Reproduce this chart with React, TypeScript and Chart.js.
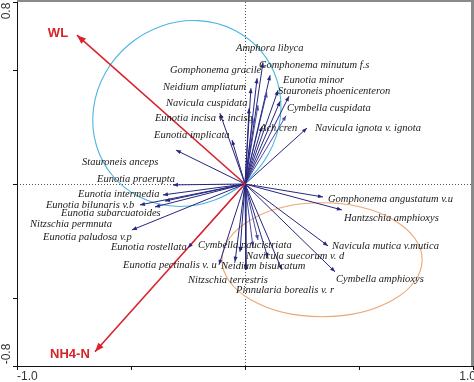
import React, { useEffect, useRef } from 'react';
import { Chart, registerables } from 'chart.js';
Chart.register(...registerables);

// Species arrows (tips in ordination units)
const speciesNames = [
  'Amphora libyca', 'Gomphonema minutum f.s', 'Gomphonema gracile', 'Neidium ampliatum',
  'Navicula cuspidata', 'Eunotia incisa v. incisa', 'Eunotia implicata', 'Eunotia minor',
  'Stauroneis phoenicenteron', 'Cymbella cuspidata', 'Ach.cren', 'Navicula ignota v. ignota',
  'Stauroneis anceps', 'Eunotia praerupta', 'Eunotia intermedia', 'Eunotia bilunaris v.b',
  'Eunotia subarcuatoides', 'Nitzschia permnuta', 'Eunotia paludosa v.p', 'Eunotia rostellata',
  'Eunotia pectinalis v. u', 'Cymbella paucistriata', 'Neidium bisulcatum', 'Nitzschia terrestris',
  'Navicula suecorum v. d', 'Pinnularia borealis v. r', 'Navicula mutica v.mutica', 'Cymbella amphioxys',
  'Gomphonema angustatum v.u', 'Hantzschia amphioxys',
];
const speciesX = [
  0.079, 0.110, 0.053, 0.026,
  0.018, -0.110, -0.057, 0.145,
  0.193, 0.154, 0.075, 0.272,
  -0.303, -0.316, -0.360, -0.461,
  -0.351, -0.395, -0.496, -0.250,
  -0.114, -0.022, -0.044, 0.004,
  0.101, 0.162, 0.364, 0.395,
  0.342, 0.425,
];
const speciesY = [
  0.535, 0.478, 0.465, 0.421,
  0.333, 0.311, 0.193, 0.412,
  0.386, 0.364, 0.254, 0.246,
  0.149, -0.004, -0.048, -0.092,
  -0.075, -0.101, -0.202, -0.281,
  -0.355, -0.298, -0.342, -0.377,
  -0.325, -0.377, -0.272, -0.386,
  -0.057, -0.114,
];
// Label anchors (left edge, middle) in ordination units
const labelX = [
  -0.039, 0.061, -0.329, -0.360,
  -0.346, -0.395, -0.399, 0.167,
  0.145, 0.184, 0.066, 0.307,
  -0.715, -0.649, -0.732, -0.873,
  -0.807, -0.943, -0.886, -0.588,
  -0.535, -0.206, -0.105, -0.250,
  0.004, -0.039, 0.382, 0.399,
  0.364, 0.434,
];
const labelY = [
  0.596, 0.522, 0.500, 0.425,
  0.355, 0.289, 0.215, 0.456,
  0.408, 0.333, 0.246, 0.246,
  0.096, 0.022, -0.044, -0.092,
  -0.127, -0.175, -0.232, -0.276,
  -0.355, -0.268, -0.360, -0.425,
  -0.316, -0.469, -0.272, -0.417,
  -0.066, -0.149,
];
// Unlabelled species arrows
const extraX = [0.096, 0.035, 0.057, 0.035, 0.057, 0.180];
const extraY = [0.403, 0.289, 0.346, -0.276, -0.246, 0.300];

// Environmental variables
const envNames = ['WL', 'NH4-N'];
const envX = [-0.737, -0.658];
const envY = [0.654, -0.737];
const envLabelX = [-0.776, -0.855];
const envLabelY = [0.662, -0.750];

// Grouping ellipses: centre x, centre y, radius x, radius y, rotation (deg)
const ellipseCX = [-0.255, 0.338];
const ellipseCY = [0.31, -0.333];
const ellipseRX = [0.425, 0.439];
const ellipseRY = [0.395, 0.250];
const ellipseRot = [-40, 0];

// Axes
const xTicks = [-1, -0.5, 0, 0.5, 1];
const yTicks = [-0.8, -0.5, 0, 0.5, 0.8];
const xTickLabels = ['-1.0', '1.0'];
const yTickLabels = ['-0.8', '0.8'];

const NAVY = '#26267f';
const RED = '#d8232a';

export default function App() {
  const ref = useRef<HTMLCanvasElement>(null);
  useEffect(() => {
    document.body.style.margin = '0';
    const canvas = ref.current!;

    const arrowDs = (x: number, y: number, color: string, w: number) => ({
      data: [{ x: 0, y: 0 }, { x, y }],
      showLine: true,
      borderColor: color,
      backgroundColor: color,
      borderWidth: w,
      pointRadius: 0,
      fill: false,
    });

    const datasets: any[] = [];
    envX.forEach((x, i) => datasets.push(arrowDs(x, envY[i], RED, 1.6)));
    speciesX.forEach((x, i) => datasets.push(arrowDs(x, speciesY[i], NAVY, 1)));
    extraX.forEach((x, i) => datasets.push(arrowDs(x, extraY[i], '#4a4aa6', 1)));

    const head = (ctx: CanvasRenderingContext2D, x0: number, y0: number, x1: number, y1: number, len: number, wid: number, color: string) => {
      const a = Math.atan2(y1 - y0, x1 - x0);
      ctx.save();
      ctx.fillStyle = color;
      ctx.beginPath();
      ctx.moveTo(x1, y1);
      ctx.lineTo(x1 - len * Math.cos(a) + wid * Math.sin(a), y1 - len * Math.sin(a) - wid * Math.cos(a));
      ctx.lineTo(x1 - len * Math.cos(a) - wid * Math.sin(a), y1 - len * Math.sin(a) + wid * Math.cos(a));
      ctx.closePath();
      ctx.fill();
      ctx.restore();
    };

    const overlay = {
      id: 'overlay',
      beforeDatasetsDraw(chart: any) {
        const { ctx, chartArea: ca, scales } = chart;
        const sx = scales.x, sy = scales.y;
        const px = (v: number) => sx.getPixelForValue(v);
        const py = (v: number) => sy.getPixelForValue(v);
        const unit = px(1) - px(0);
        ctx.save();
        // zero lines
        ctx.strokeStyle = '#555';
        ctx.lineWidth = 1;
        ctx.setLineDash([1, 2]);
        ctx.beginPath();
        ctx.moveTo(Math.round(px(0)) + 0.5, ca.top);
        ctx.lineTo(Math.round(px(0)) + 0.5, ca.bottom);
        ctx.moveTo(ca.left, Math.round(py(0)) + 0.5);
        ctx.lineTo(ca.right, Math.round(py(0)) + 0.5);
        ctx.stroke();
        ctx.setLineDash([]);
        // ellipses
        const colors = ['#4cb6e2', '#eba676'];
        ellipseCX.forEach((cx, i) => {
          ctx.strokeStyle = colors[i];
          ctx.lineWidth = 1.1;
          ctx.beginPath();
          ctx.ellipse(px(cx), py(ellipseCY[i]), ellipseRX[i] * unit, ellipseRY[i] * unit, (ellipseRot[i] * Math.PI) / 180, 0, Math.PI * 2);
          ctx.stroke();
        });
        ctx.restore();
      },
      afterDatasetsDraw(chart: any) {
        const { ctx, chartArea: ca, scales } = chart;
        const sx = scales.x, sy = scales.y;
        const px = (v: number) => sx.getPixelForValue(v);
        const py = (v: number) => sy.getPixelForValue(v);
        const ox = px(0), oy = py(0);
        ctx.save();
        // arrowheads
        speciesX.forEach((x, i) => head(ctx, ox, oy, px(x), py(speciesY[i]), 5, 2, NAVY));
        extraX.forEach((x, i) => head(ctx, ox, oy, px(x), py(extraY[i]), 5, 2, '#4a4aa6'));
        envX.forEach((x, i) => head(ctx, ox, oy, px(x), py(envY[i]), 9, 3.5, RED));
        // species labels
        ctx.fillStyle = '#1a1a1a';
        ctx.font = "italic 10.5px 'Liberation Serif', 'DejaVu Serif', serif";
        ctx.textAlign = 'left';
        ctx.textBaseline = 'middle';
        speciesNames.forEach((n, i) => ctx.fillText(n, px(labelX[i]), py(labelY[i])));
        // env labels
        ctx.fillStyle = RED;
        ctx.font = "bold 13px 'Liberation Sans', Arial, sans-serif";
        ctx.textAlign = 'right';
        ctx.fillText(envNames[0], px(envLabelX[0]), py(envLabelY[0]));
        ctx.textAlign = 'left';
        ctx.fillText(envNames[1], px(envLabelX[1]), py(envLabelY[1]));
        // frame: top/right gray
        ctx.strokeStyle = '#8a8a8a';
        ctx.lineWidth = 2;
        ctx.beginPath();
        ctx.moveTo(ca.left, 1);
        ctx.lineTo(ca.right + 1, 1);
        ctx.stroke();
        ctx.lineWidth = 3;
        ctx.beginPath();
        ctx.moveTo(ca.right - 0.5, 0);
        ctx.lineTo(ca.right - 0.5, ca.bottom + 1);
        ctx.stroke();
        // axes
        ctx.strokeStyle = '#111';
        ctx.lineWidth = 1;
        ctx.beginPath();
        ctx.moveTo(ca.left + 0.5, ca.top);
        ctx.lineTo(ca.left + 0.5, ca.bottom + 0.5);
        ctx.lineTo(ca.right, ca.bottom + 0.5);
        ctx.stroke();
        ctx.beginPath();
        xTicks.forEach((t) => {
          const x = Math.round(px(t)) + 0.5;
          ctx.moveTo(x, ca.bottom);
          ctx.lineTo(x, ca.bottom + 4);
        });
        yTicks.forEach((t) => {
          const y = Math.round(py(t)) + 0.5;
          ctx.moveTo(ca.left - 4, y);
          ctx.lineTo(ca.left + 1, y);
        });
        ctx.stroke();
        // tick labels
        ctx.fillStyle = '#333';
        ctx.font = "12px 'Liberation Sans', Arial, sans-serif";
        ctx.textBaseline = 'middle';
        ctx.textAlign = 'left';
        ctx.fillText(xTickLabels[0], px(-1), ca.bottom + 11);
        ctx.textAlign = 'right';
        ctx.fillText(xTickLabels[1], px(1) + 3, ca.bottom + 11);
        ctx.textAlign = 'center';
        ctx.save();
        ctx.translate(7, py(-0.8) - 12);
        ctx.rotate(-Math.PI / 2);
        ctx.fillText(yTickLabels[0], 0, 0);
        ctx.restore();
        ctx.save();
        ctx.translate(7, py(0.8) + 9);
        ctx.rotate(-Math.PI / 2);
        ctx.fillText(yTickLabels[1], 0, 0);
        ctx.restore();
        ctx.restore();
      },
    };

    const chart = new Chart(canvas, {
      type: 'scatter',
      data: { datasets },
      options: {
        animation: false,
        responsive: false,
        devicePixelRatio: 1,
        events: [],
        layout: { padding: { left: 17, right: 1, top: 2, bottom: 16 } },
        scales: {
          x: { type: 'linear', min: -1, max: 1, display: false },
          y: { type: 'linear', min: -0.8, max: 0.8, display: false },
        },
        plugins: { legend: { display: false }, tooltip: { enabled: false } },
      },
      plugins: [overlay],
    } as any);
    return () => chart.destroy();
  }, []);
  return <canvas ref={ref} width={474} height={382} style={{ display: 'block' }} />;
}
